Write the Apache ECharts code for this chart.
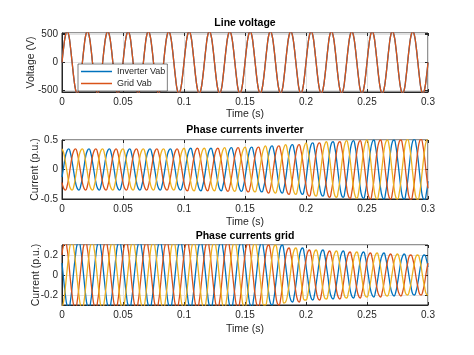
<!DOCTYPE html>
<html><head><meta charset="utf-8">
<script src="https://cdn.jsdelivr.net/npm/echarts@6/dist/echarts.min.js"></script>
<style>html,body{margin:0;padding:0;background:#fff}#c{width:474px;height:355px}</style>
</head><body><div id="c"></div>
<script>
// sample instants (s), 12 per 60 Hz cycle
const time = [0, .0014, .0028, .0042, .0056, .0069, .0083, .0097, .0111, .0125, .0139, .0153,
 .0167, .0181, .0194, .0208, .0222, .0236, .025, .0264, .0278, .0292, .0306, .0319,
 .0333, .0347, .0361, .0375, .0389, .0403, .0417, .0431, .0444, .0458, .0472, .0486,
 .05, .0514, .0528, .0542, .0556, .0569, .0583, .0597, .0611, .0625, .0639, .0653,
 .0667, .0681, .0694, .0708, .0722, .0736, .075, .0764, .0778, .0792, .0806, .0819,
 .0833, .0847, .0861, .0875, .0889, .0903, .0917, .0931, .0944, .0958, .0972, .0986,
 .1, .1014, .1028, .1042, .1056, .1069, .1083, .1097, .1111, .1125, .1139, .1153,
 .1167, .1181, .1194, .1208, .1222, .1236, .125, .1264, .1278, .1292, .1306, .1319,
 .1333, .1347, .1361, .1375, .1389, .1403, .1417, .1431, .1444, .1458, .1472, .1486,
 .15, .1514, .1528, .1542, .1556, .1569, .1583, .1597, .1611, .1625, .1639, .1653,
 .1667, .1681, .1694, .1708, .1722, .1736, .175, .1764, .1778, .1792, .1806, .1819,
 .1833, .1847, .1861, .1875, .1889, .1903, .1917, .1931, .1944, .1958, .1972, .1986,
 .2, .2014, .2028, .2042, .2056, .2069, .2083, .2097, .2111, .2125, .2139, .2153,
 .2167, .2181, .2194, .2208, .2222, .2236, .225, .2264, .2278, .2292, .2306, .2319,
 .2333, .2347, .2361, .2375, .2389, .2403, .2417, .2431, .2444, .2458, .2472, .2486,
 .25, .2514, .2528, .2542, .2556, .2569, .2583, .2597, .2611, .2625, .2639, .2653,
 .2667, .2681, .2694, .2708, .2722, .2736, .275, .2764, .2778, .2792, .2806, .2819,
 .2833, .2847, .2861, .2875, .2889, .2903, .2917, .2931, .2944, .2958, .2972, .2986,
 .3];

// Line voltage (V)
const gridVab = [
 0,280,485,560,485,280,0,-280,-485,-560,-485,-280, 0,280,485,560,485,280,0,-280,-485,-560,-485,-280,
 0,280,485,560,485,280,0,-280,-485,-560,-485,-280, 0,280,485,560,485,280,0,-280,-485,-560,-485,-280,
 0,280,485,560,485,280,0,-280,-485,-560,-485,-280, 0,280,485,560,485,280,0,-280,-485,-560,-485,-280,
 0,280,485,560,485,280,0,-280,-485,-560,-485,-280, 0,280,485,560,485,280,0,-280,-485,-560,-485,-280,
 0,280,485,560,485,280,0,-280,-485,-560,-485,-280, 0,280,485,560,485,280,0,-280,-485,-560,-485,-280,
 0,280,485,560,485,280,0,-280,-485,-560,-485,-280, 0,280,485,560,485,280,0,-280,-485,-560,-485,-280,
 0,280,485,560,485,280,0,-280,-485,-560,-485,-280, 0,280,485,560,485,280,0,-280,-485,-560,-485,-280,
 0,280,485,560,485,280,0,-280,-485,-560,-485,-280, 0,280,485,560,485,280,0,-280,-485,-560,-485,-280,
 0,280,485,560,485,280,0,-280,-485,-560,-485,-280, 0,280,485,560,485,280,0,-280,-485,-560,-485,-280,
 0];
const inverterVab = [
 0,280,485,560,485,280,0,-280,-485,-560,-485,-280, 0,280,485,560,485,280,0,-280,-485,-560,-485,-280,
 0,280,485,560,485,280,0,-280,-485,-560,-485,-280, 0,280,485,560,485,280,0,-280,-485,-560,-485,-280,
 0,280,485,560,485,280,0,-280,-485,-560,-485,-280, 0,280,485,560,485,280,0,-280,-485,-560,-485,-280,
 0,280,485,560,485,280,0,-280,-485,-560,-485,-280, 0,280,485,560,485,280,0,-280,-485,-560,-485,-280,
 0,280,485,560,485,280,0,-280,-485,-560,-485,-280, 0,280,485,560,485,280,0,-280,-485,-560,-485,-280,
 0,280,485,560,485,280,0,-280,-485,-560,-485,-280, 0,280,485,560,485,280,0,-280,-485,-560,-485,-280,
 0,280,485,560,485,280,0,-280,-485,-560,-485,-280, 0,280,485,560,485,280,0,-280,-485,-560,-485,-280,
 0,280,485,560,485,280,0,-280,-485,-560,-485,-280, 0,280,485,560,485,280,0,-280,-485,-560,-485,-280,
 0,280,485,560,485,280,0,-280,-485,-560,-485,-280, 0,280,485,560,485,280,0,-280,-485,-560,-485,-280,
 0];

// Phase currents inverter (p.u.)
const invIa = [
 -.13,.05,.22,.32,.35,.28,.13,-.05,-.22,-.32,-.35,-.28,
 -.13,.05,.22,.32,.35,.28,.13,-.05,-.22,-.32,-.35,-.28,
 -.13,.05,.22,.32,.35,.28,.13,-.05,-.22,-.32,-.35,-.28,
 -.13,.05,.22,.32,.35,.28,.13,-.05,-.22,-.32,-.35,-.28,
 -.13,.05,.22,.32,.35,.28,.13,-.05,-.22,-.32,-.35,-.28,
 -.13,.05,.22,.32,.35,.28,.13,-.05,-.22,-.32,-.35,-.28,
 -.14,.05,.22,.33,.36,.28,.14,-.05,-.22,-.33,-.36,-.28,
 -.14,.05,.22,.33,.36,.28,.14,-.05,-.22,-.33,-.36,-.28,
 -.14,.05,.23,.34,.37,.29,.14,-.05,-.23,-.34,-.37,-.29,
 -.14,.05,.23,.35,.38,.30,.14,-.05,-.23,-.35,-.38,-.30,
 -.15,.06,.25,.37,.40,.32,.15,-.06,-.25,-.37,-.40,-.32,
 -.16,.06,.26,.39,.42,.33,.16,-.06,-.26,-.39,-.42,-.33,
 -.17,.06,.28,.42,.45,.35,.17,-.06,-.28,-.42,-.45,-.35,
 -.18,.07,.29,.44,.47,.37,.18,-.07,-.29,-.44,-.47,-.37,
 -.18,.07,.30,.45,.49,.39,.18,-.07,-.30,-.45,-.49,-.39,
 -.19,.07,.31,.46,.50,.39,.19,-.07,-.31,-.46,-.50,-.39,
 -.19,.07,.31,.47,.50,.40,.19,-.07,-.31,-.47,-.50,-.40,
 -.20,.07,.32,.48,.51,.41,.20,-.07,-.32,-.48,-.51,-.41,
 -.20];
const invIb = [
 -.22,-.32,-.35,-.28,-.13,.05,.22,.32,.35,.28,.13,-.05,
 -.22,-.32,-.35,-.28,-.13,.05,.22,.32,.35,.28,.13,-.05,
 -.22,-.32,-.35,-.28,-.13,.05,.22,.32,.35,.28,.13,-.05,
 -.22,-.32,-.35,-.28,-.13,.05,.22,.32,.35,.28,.13,-.05,
 -.22,-.32,-.35,-.28,-.13,.05,.22,.32,.35,.28,.13,-.05,
 -.22,-.32,-.35,-.28,-.13,.05,.22,.32,.35,.28,.13,-.05,
 -.22,-.33,-.36,-.28,-.14,.05,.22,.33,.36,.28,.14,-.05,
 -.22,-.33,-.36,-.28,-.14,.05,.22,.33,.36,.28,.14,-.05,
 -.23,-.34,-.37,-.29,-.14,.05,.23,.34,.37,.29,.14,-.05,
 -.23,-.35,-.38,-.30,-.14,.05,.23,.35,.38,.30,.14,-.05,
 -.25,-.37,-.40,-.32,-.15,.06,.25,.37,.40,.32,.15,-.06,
 -.26,-.39,-.42,-.33,-.16,.06,.26,.39,.42,.33,.16,-.06,
 -.28,-.42,-.45,-.35,-.17,.06,.28,.42,.45,.35,.17,-.06,
 -.29,-.44,-.47,-.37,-.18,.07,.29,.44,.47,.37,.18,-.07,
 -.30,-.45,-.49,-.39,-.18,.07,.30,.45,.49,.39,.18,-.07,
 -.31,-.46,-.50,-.39,-.19,.07,.31,.46,.50,.39,.19,-.07,
 -.31,-.47,-.50,-.40,-.19,.07,.31,.47,.50,.40,.19,-.07,
 -.32,-.48,-.51,-.41,-.20,.07,.32,.48,.51,.41,.20,-.07,
 -.32];
const invIc = [
 .35,.28,.13,-.05,-.22,-.32,-.35,-.28,-.13,.05,.22,.32,
 .35,.28,.13,-.05,-.22,-.32,-.35,-.28,-.13,.05,.22,.32,
 .35,.28,.13,-.05,-.22,-.32,-.35,-.28,-.13,.05,.22,.32,
 .35,.28,.13,-.05,-.22,-.32,-.35,-.28,-.13,.05,.22,.32,
 .35,.28,.13,-.05,-.22,-.32,-.35,-.28,-.13,.05,.22,.32,
 .35,.28,.13,-.05,-.22,-.32,-.35,-.28,-.13,.05,.22,.32,
 .36,.28,.14,-.05,-.22,-.33,-.36,-.28,-.14,.05,.22,.33,
 .36,.28,.14,-.05,-.22,-.33,-.36,-.28,-.14,.05,.22,.33,
 .37,.29,.14,-.05,-.23,-.34,-.37,-.29,-.14,.05,.23,.34,
 .38,.30,.14,-.05,-.23,-.35,-.38,-.30,-.14,.05,.23,.35,
 .40,.32,.15,-.06,-.25,-.37,-.40,-.32,-.15,.06,.25,.37,
 .42,.33,.16,-.06,-.26,-.39,-.42,-.33,-.16,.06,.26,.39,
 .45,.35,.17,-.06,-.28,-.42,-.45,-.35,-.17,.06,.28,.42,
 .47,.37,.18,-.07,-.29,-.44,-.47,-.37,-.18,.07,.29,.44,
 .49,.39,.18,-.07,-.30,-.45,-.49,-.39,-.18,.07,.30,.45,
 .50,.39,.19,-.07,-.31,-.46,-.50,-.39,-.19,.07,.31,.46,
 .50,.40,.19,-.07,-.31,-.47,-.50,-.40,-.19,.07,.31,.47,
 .51,.41,.20,-.07,-.32,-.48,-.51,-.41,-.20,.07,.32,.48,
 .51];

// Phase currents grid (p.u.)
const gridIa = [
 .12,-.05,-.20,-.31,-.33,-.26,-.12,.05,.20,.31,.33,.26,
 .12,-.05,-.20,-.31,-.33,-.26,-.12,.05,.20,.31,.33,.26,
 .12,-.05,-.20,-.31,-.33,-.26,-.12,.05,.20,.31,.33,.26,
 .12,-.05,-.20,-.31,-.33,-.26,-.12,.05,.20,.31,.33,.26,
 .12,-.05,-.20,-.31,-.33,-.26,-.12,.05,.20,.31,.33,.26,
 .12,-.05,-.20,-.31,-.33,-.26,-.12,.05,.20,.31,.33,.26,
 .12,-.05,-.20,-.31,-.33,-.26,-.12,.05,.20,.31,.33,.26,
 .12,-.05,-.20,-.31,-.33,-.26,-.12,.05,.20,.31,.33,.26,
 .12,-.05,-.20,-.31,-.33,-.26,-.12,.05,.20,.31,.33,.26,
 .12,-.04,-.20,-.30,-.32,-.25,-.12,.04,.20,.30,.32,.25,
 .11,-.04,-.18,-.28,-.30,-.24,-.11,.04,.18,.28,.30,.24,
 .10,-.04,-.17,-.25,-.27,-.21,-.10,.04,.17,.25,.27,.21,
 .09,-.03,-.15,-.23,-.25,-.20,-.09,.03,.15,.23,.25,.20,
 .09,-.03,-.15,-.22,-.24,-.19,-.09,.03,.15,.22,.24,.19,
 .09,-.03,-.14,-.21,-.23,-.18,-.09,.03,.14,.21,.23,.18,
 .08,-.03,-.14,-.20,-.22,-.17,-.08,.03,.14,.20,.22,.17,
 .08,-.03,-.13,-.19,-.21,-.17,-.08,.03,.13,.19,.21,.17,
 .08,-.03,-.12,-.19,-.20,-.16,-.08,.03,.12,.19,.20,.16,
 .08];
const gridIb = [
 .20,.31,.33,.26,.12,-.05,-.20,-.31,-.33,-.26,-.12,.05,
 .20,.31,.33,.26,.12,-.05,-.20,-.31,-.33,-.26,-.12,.05,
 .20,.31,.33,.26,.12,-.05,-.20,-.31,-.33,-.26,-.12,.05,
 .20,.31,.33,.26,.12,-.05,-.20,-.31,-.33,-.26,-.12,.05,
 .20,.31,.33,.26,.12,-.05,-.20,-.31,-.33,-.26,-.12,.05,
 .20,.31,.33,.26,.12,-.05,-.20,-.31,-.33,-.26,-.12,.05,
 .20,.31,.33,.26,.12,-.05,-.20,-.31,-.33,-.26,-.12,.05,
 .20,.31,.33,.26,.12,-.05,-.20,-.31,-.33,-.26,-.12,.05,
 .20,.31,.33,.26,.12,-.05,-.20,-.31,-.33,-.26,-.12,.05,
 .20,.30,.32,.25,.12,-.04,-.20,-.30,-.32,-.25,-.12,.04,
 .18,.28,.30,.24,.11,-.04,-.18,-.28,-.30,-.24,-.11,.04,
 .17,.25,.27,.21,.10,-.04,-.17,-.25,-.27,-.21,-.10,.04,
 .15,.23,.25,.20,.09,-.03,-.15,-.23,-.25,-.20,-.09,.03,
 .15,.22,.24,.19,.09,-.03,-.15,-.22,-.24,-.19,-.09,.03,
 .14,.21,.23,.18,.09,-.03,-.14,-.21,-.23,-.18,-.09,.03,
 .14,.20,.22,.17,.08,-.03,-.14,-.20,-.22,-.17,-.08,.03,
 .13,.19,.21,.17,.08,-.03,-.13,-.19,-.21,-.17,-.08,.03,
 .12,.19,.20,.16,.08,-.03,-.12,-.19,-.20,-.16,-.08,.03,
 .12];
const gridIc = [
 -.33,-.26,-.12,.05,.20,.31,.33,.26,.12,-.05,-.20,-.31,
 -.33,-.26,-.12,.05,.20,.31,.33,.26,.12,-.05,-.20,-.31,
 -.33,-.26,-.12,.05,.20,.31,.33,.26,.12,-.05,-.20,-.31,
 -.33,-.26,-.12,.05,.20,.31,.33,.26,.12,-.05,-.20,-.31,
 -.33,-.26,-.12,.05,.20,.31,.33,.26,.12,-.05,-.20,-.31,
 -.33,-.26,-.12,.05,.20,.31,.33,.26,.12,-.05,-.20,-.31,
 -.33,-.26,-.12,.05,.20,.31,.33,.26,.12,-.05,-.20,-.31,
 -.33,-.26,-.12,.05,.20,.31,.33,.26,.12,-.05,-.20,-.31,
 -.33,-.26,-.12,.05,.20,.31,.33,.26,.12,-.05,-.20,-.31,
 -.32,-.25,-.12,.04,.20,.30,.32,.25,.12,-.04,-.20,-.30,
 -.30,-.24,-.11,.04,.18,.28,.30,.24,.11,-.04,-.18,-.28,
 -.27,-.21,-.10,.04,.17,.25,.27,.21,.10,-.04,-.17,-.25,
 -.25,-.20,-.09,.03,.15,.23,.25,.20,.09,-.03,-.15,-.23,
 -.24,-.19,-.09,.03,.15,.22,.24,.19,.09,-.03,-.15,-.22,
 -.23,-.18,-.09,.03,.14,.21,.23,.18,.09,-.03,-.14,-.21,
 -.22,-.17,-.08,.03,.14,.20,.22,.17,.08,-.03,-.14,-.20,
 -.21,-.17,-.08,.03,.13,.19,.21,.17,.08,-.03,-.13,-.19,
 -.20,-.16,-.08,.03,.12,.19,.20,.16,.08,-.03,-.12,-.19,
 -.20];

const xTicks = [0, 0.05, 0.1, 0.15, 0.2, 0.25, 0.3];
const xTickLabels = ['0', '0.05', '0.1', '0.15', '0.2', '0.25', '0.3'];
const vTicks = [-500, 0, 500];
const vTickLabels = ['-500', '0', '500'];
const invTicks = [-0.5, 0, 0.5];
const invTickLabels = ['-0.5', '0', '0.5'];
const gridTicks = [-0.2, 0, 0.2];
const gridTickLabels = ['-0.2', '0', '0.2'];
const titles = ['Line voltage', 'Phase currents inverter', 'Phase currents grid'];
const yNames = ['Voltage (V)', 'Current (p.u.)', 'Current (p.u.)'];
const legendNames = ['Inverter Vab', 'Grid Vab'];

const FONT = '"Liberation Sans", Arial, Helvetica, sans-serif';
const AX = '#262626';
const COLORS = ['#0072BD', '#D95319', '#EDB120'];

function fmt(ticks, labels) {
  return function (v) {
    for (let i = 0; i < ticks.length; i++) if (Math.abs(ticks[i] - v) < 1e-9) return labels[i];
    return '';
  };
}

const grids = [
  { left: 62, top: 33, width: 366, height: 59 },
  { left: 62, top: 140, width: 366, height: 59 },
  { left: 62, top: 245, width: 366, height: 60 }
].map(g => Object.assign(g, { show: true, borderColor: AX, borderWidth: 1, backgroundColor: 'transparent', containLabel: false }));

const xGaps = [17, 17.5, 18.5];
const xAxes = [], yAxes = [];
for (let i = 0; i < 3; i++) {
  xAxes.push({
    type: 'value', gridIndex: i, min: 0, max: 0.3, interval: 0.05, position: 'bottom',
    name: 'Time (s)', nameLocation: 'middle', nameGap: xGaps[i], nameMoveOverlap: false,
    nameTextStyle: { color: AX, fontSize: 10.5, fontFamily: FONT },
    axisLine: { show: true, onZero: false, lineStyle: { color: AX, width: 1 } },
    axisTick: { show: true, inside: true, length: 3, lineStyle: { color: AX } },
    axisLabel: { color: AX, fontSize: 10, fontFamily: FONT, margin: 5, formatter: fmt(xTicks, xTickLabels) },
    splitLine: { show: true, lineStyle: { color: '#e2e2e2', width: 1 } }
  });
  xAxes.push({
    type: 'value', gridIndex: i, min: 0, max: 0.3, interval: 0.05, position: 'top',
    axisLine: { show: false, onZero: false }, axisLabel: { show: false }, splitLine: { show: false },
    axisTick: { show: true, inside: true, length: 3, lineStyle: { color: AX } }
  });
}
const yCfg = [
  { min: -530, max: 530, splitNumber: 2, ticks: vTicks, labels: vTickLabels, gap: 25 },
  { min: -0.5, max: 0.5, interval: 0.5, ticks: invTicks, labels: invTickLabels, gap: 21 },
  { min: -0.3, max: 0.3, splitNumber: 3, ticks: gridTicks, labels: gridTickLabels, gap: 20 }
];
yCfg.forEach((c, i) => {
  const base = { type: 'value', gridIndex: i, min: c.min, max: c.max };
  if (c.interval) base.interval = c.interval; else base.splitNumber = c.splitNumber;
  yAxes.push(Object.assign({}, base, {
    position: 'left', name: yNames[i], nameLocation: 'middle', nameGap: c.gap, nameMoveOverlap: false,
    nameTextStyle: { color: AX, fontSize: 10.5, fontFamily: FONT },
    axisLine: { show: true, onZero: false, lineStyle: { color: AX, width: 1 } },
    axisTick: { show: true, inside: true, length: 3, lineStyle: { color: AX } },
    axisLabel: { color: AX, fontSize: 10, fontFamily: FONT, margin: 4, formatter: fmt(c.ticks, c.labels) },
    splitLine: { show: true, lineStyle: { color: '#e2e2e2', width: 1 } }
  }));
  yAxes.push(Object.assign({}, base, {
    position: 'right',
    axisLine: { show: false, onZero: false }, axisLabel: { show: false }, splitLine: { show: false },
    axisTick: { show: true, inside: true, length: 3, lineStyle: { color: AX } }
  }));
});

function pairs(arr) { return time.map((t, i) => [t, arr[i]]); }
function line(name, arr, gi, color) {
  return {
    type: 'line', name: name, xAxisIndex: gi * 2, yAxisIndex: gi * 2, data: pairs(arr),
    showSymbol: false, symbol: 'none', smooth: 0.5, clip: true,
    lineStyle: { color: color, width: 1.3 }, itemStyle: { color: color }
  };
}

const option = {
  animation: false,
  backgroundColor: '#ffffff',
  textStyle: { fontFamily: FONT },
  title: [
    { text: titles[0], left: 245, top: 18 },
    { text: titles[1], left: 245, top: 125 },
    { text: titles[2], left: 245, top: 231 }
  ].map(t => Object.assign(t, { textAlign: 'center', padding: 0, textStyle: { fontSize: 10.5, fontWeight: 'bold', color: '#000', fontFamily: FONT } })),
  legend: {
    data: legendNames, orient: 'vertical', left: 78, top: 64,
    icon: 'rect', itemWidth: 31, itemHeight: 1.5, itemGap: 3,
    padding: [3, 2, 3, 3],
    backgroundColor: '#fff', borderColor: AX, borderWidth: 0.6,
    textStyle: { fontSize: 9, color: AX, fontFamily: FONT }, z: 10
  },
  grid: grids,
  xAxis: xAxes,
  yAxis: yAxes,
  series: [
    line(legendNames[0], inverterVab, 0, COLORS[0]),
    line(legendNames[1], gridVab, 0, COLORS[1]),
    line('ia inverter', invIa, 1, COLORS[0]),
    line('ib inverter', invIb, 1, COLORS[1]),
    line('ic inverter', invIc, 1, COLORS[2]),
    line('ia grid', gridIa, 2, COLORS[0]),
    line('ib grid', gridIb, 2, COLORS[1]),
    line('ic grid', gridIc, 2, COLORS[2])
  ]
};
const chart = echarts.init(document.getElementById('c'), null, { renderer: 'canvas' });
chart.setOption(option);
</script></body></html>
